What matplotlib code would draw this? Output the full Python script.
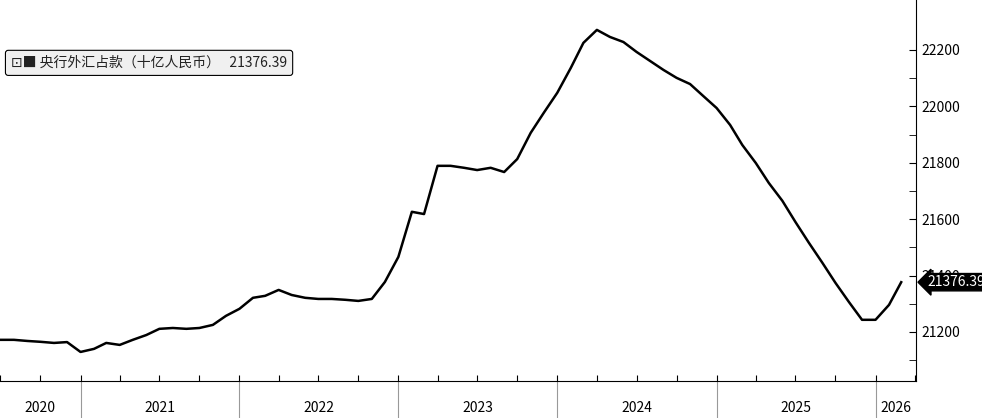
import matplotlib
matplotlib.use("Agg")
import matplotlib.pyplot as plt
import matplotlib.dates as mdates
import pandas as pd

plt.rcParams['font.family'] = ['Noto Sans CJK SC', 'DejaVu Sans']

values = [21172, 21172, 21168, 21165, 21161, 21164, 21129, 21140, 21161, 21154,
          21172, 21189, 21211, 21214, 21211, 21214, 21225, 21257, 21282, 21321,
          21328, 21349, 21331, 21321, 21317, 21317, 21314, 21310, 21317, 21377,
          21466, 21626, 21618, 21789, 21789, 21782, 21774, 21782, 21767, 21813,
          21906, 21977, 22048, 22136, 22225, 22271, 22246, 22228, 22193, 22161,
          22129, 22101, 22079, 22037, 21994, 21934, 21863, 21799, 21728, 21665,
          21590, 21516, 21445, 21374, 21306, 21243, 21243, 21296, 21376.39]
dates = pd.date_range(end="2026-03-01", periods=len(values), freq="MS")
years = [2020, 2021, 2022, 2023, 2024, 2025, 2026]
label = "央行外汇占款（十亿人民币）"
last = values[-1]

fig = plt.figure(figsize=(9.82, 4.18), dpi=100)
ax = fig.add_axes([0.0, 0.0885, 0.9328, 0.9115])
ax.plot(dates, values, color="black", lw=1.8)

x0 = pd.Timestamp("2020-06-30")
x1 = pd.Timestamp("2026-04-04")
ax.set_xlim(x0, x1)
ax.set_ylim(21026, 22377)

ax.yaxis.tick_right()
ax.set_yticks(range(21200, 22201, 200))
ax.set_yticks(range(21100, 22300, 200), minor=True)
ax.tick_params(axis="y", which="both", direction="in", length=5, labelsize=10, pad=4)
for s in ("top", "left"):
    ax.spines[s].set_visible(False)

ax.xaxis.set_major_locator(mdates.MonthLocator(bymonth=[1, 4, 7, 10]))
ax.xaxis.set_major_formatter(plt.NullFormatter())
ax.tick_params(axis="x", direction="in", length=4)

# year separators and labels below the axis
for y in years:
    start = pd.Timestamp(f"{y}-01-01")
    end = pd.Timestamp(f"{y + 1}-01-01")
    if start > x0:
        ax.axvline(start, ymin=-0.1, ymax=0, color="#999999", lw=0.8, clip_on=False)
    mid = max(start, x0) + (min(end, x1) - max(start, x0)) / 2
    ax.text(mid, -0.07, str(y), transform=ax.get_xaxis_transform(),
            ha="center", va="center", fontsize=10)

# last value tag
ax.annotate(f"{last:.2f}", xy=(1.0, last), xycoords=("axes fraction", "data"),
            xytext=(8, 0), textcoords="offset points", ha="left", va="center",
            fontsize=10, color="white", zorder=10, annotation_clip=False,
            bbox=dict(boxstyle="larrow,pad=0.12", fc="black", ec="black"))

# legend box
ax.text(0.012, 0.835, f"\u22a1\u25a0 {label}   {last:.2f}", transform=ax.transAxes,
        fontsize=10, va="center", ha="left", color="#222222",
        bbox=dict(boxstyle="round,pad=0.4,rounding_size=0.2", fc="#f0f0f0", ec="black", lw=0.8))

fig.savefig("out.png", dpi=100)
